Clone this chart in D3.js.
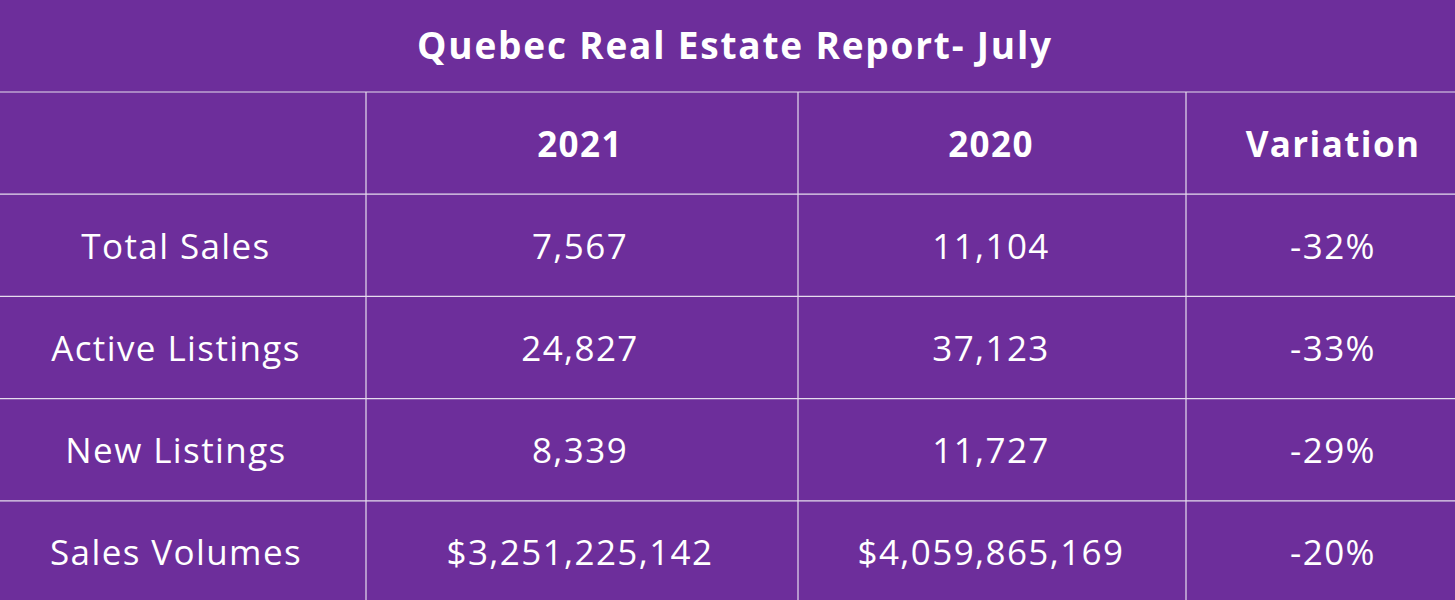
<!DOCTYPE html>
<html><head><meta charset="utf-8">
<script src="https://cdn.jsdelivr.net/npm/d3@7/dist/d3.min.js"></script>
<style>body{margin:0;background:#6D2E9B;}svg{display:block;}</style>
</head><body>
<script>
const title = "Quebec Real Estate Report- July";
const headers = ["", "2021", "2020", "Variation"];
const categories = ["Total Sales", "Active Listings", "New Listings", "Sales Volumes"];
const values2021 = ["7,567", "24,827", "8,339", "$3,251,225,142"];
const values2020 = ["11,104", "37,123", "11,727", "$4,059,865,169"];
const variation = ["-32%", "-33%", "-29%", "-20%"];

const W = 1455, H = 600;
const colEdges = [0, 366, 798, 1186, W];
const colCenters = [176, 580, 991, 1333];
const svg = d3.select("body").append("svg").attr("width", W).attr("height", H);
svg.append("rect").attr("width", W).attr("height", H).attr("fill", "#6D2E9B");
const font = "'Open Sans', 'Noto Sans', sans-serif";

svg.append("text").attr("x", 735).attr("y", 44).attr("text-anchor", "middle")
  .attr("dominant-baseline", "central").attr("fill", "#fff").attr("font-family", font)
  .attr("font-weight", 700).attr("font-size", 37).attr("letter-spacing", 1.8).text(title);

const rowKeys = ["header", ...categories];
const y = d3.scaleBand().domain(rowKeys).range([92, 603]);

svg.selectAll("line.h").data(rowKeys).join("line")
  .attr("x1", 0).attr("x2", W).attr("y1", d => y(d)).attr("y2", d => y(d))
  .attr("stroke", "#E6DDEE").attr("stroke-width", 1.2);
svg.selectAll("line.v").data(colEdges.slice(1, 4)).join("line")
  .attr("x1", d => d).attr("x2", d => d).attr("y1", 92).attr("y2", H)
  .attr("stroke", "#E6DDEE").attr("stroke-width", 1.2);

const rows = [headers, ...categories.map((c, i) => [c, values2021[i], values2020[i], variation[i]])];
rows.forEach((r, ri) => {
  const yc = y(rowKeys[ri]) + y.bandwidth() / 2;
  r.forEach((t, ci) => {
    svg.append("text").attr("x", colCenters[ci]).attr("y", yc)
      .attr("text-anchor", "middle").attr("dominant-baseline", "central")
      .attr("fill", "#fff").attr("font-family", font)
      .attr("letter-spacing", 1.4)
      .attr("font-weight", ri === 0 ? 700 : 400).attr("font-size", 35).text(t);
  });
});
</script>
</body></html>
